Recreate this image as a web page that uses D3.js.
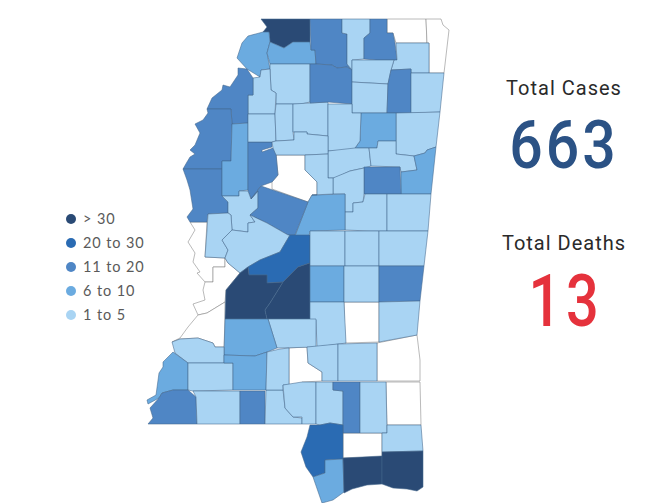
<!DOCTYPE html>
<html>
<head>
<meta charset="utf-8">
<script src="https://cdnjs.cloudflare.com/ajax/libs/d3/7.8.5/d3.min.js"></script>
<style>
  body { margin: 0; background: #fff; }
  svg { display: block; }
</style>
</head>
<body>
<svg id="viz" width="668" height="503"></svg>
<script>
// legend bands, darkest first
const bandLabels = ["> 30", "20 to 30", "11 to 20", "6 to 10", "1 to 5"];
const bandColors = ["#2a4a75", "#2a6bb3", "#4f86c5", "#6babe0", "#a9d4f3"];

const totalCases = 663;
const totalDeaths = 13;

// counties per band
const over30 = ["DeSoto", "Hinds", "Rankin", "Jackson", "Harrison"];
const from20to30 = ["Madison", "Hancock"];
const from11to20 = ["Marshall", "Lafayette", "Tippah", "Lee", "Coahoma", "Bolivar", "Washington", "Leflore",
  "Oktibbeha", "Yazoo", "Lauderdale", "Wilkinson", "Walthall", "Forrest"];
const from6to10 = ["Tunica", "Tate", "Sunflower", "Chickasaw", "Lowndes", "Attala", "Newton", "Copiah",
  "Adams", "Lincoln", "PearlRiver"];
const from1to5 = ["Panola", "Quitman", "Tallahatchie", "Yalobusha", "Calhoun", "Benton", "Prentiss", "Union",
  "Pontotoc", "Itawamba", "Monroe", "Webster", "Choctaw", "Clay", "Montgomery", "Winston", "Noxubee", "Grenada",
  "Carroll", "Sharkey", "Warren", "Humphreys", "Leake", "Neshoba", "Kemper", "Scott", "Jasper", "Smith", "Clarke",
  "Simpson", "Jefferson", "Franklin", "Amite", "Pike", "Lawrence", "JeffersonDavis", "Covington", "Jones", "Perry",
  "Marion", "Lamar", "Stone", "George"];
// the remaining counties have no reported cases and stay white

// county outlines
const countyOutlines = {
  Alcorn: [[387,19],[426,19],[427,43],[396,43],[393,33],[387,33]],
  Tishomingo: [[426,19],[441,19],[443,25],[449,30],[444,73],[429,73],[429,43],[427,43]],
  Holmes: [[276,155],[305,155],[305,170],[317,182],[317,195],[312,195],[308,202],[272,189],[272,182],[278,175]],
  Claiborne: [[190,222],[207,222],[205,257],[225,258],[225,267],[213,267],[213,282],[205,282],[197,273],[200,272],[193,262],[195,253],[188,242],[195,230]],
  Issaquena: [[205,282],[213,282],[213,267],[225,267],[225,258],[228,263],[240,273],[226,290],[225,302],[207,313],[198,315],[193,304],[205,300],[203,290]],
  Tensas: [[198,315],[207,313],[225,302],[225,319],[224,347],[215,347],[213,343],[198,338],[180,339],[172,342],[180,338],[188,327]],
  Kemper2: [[344,302],[379,302],[379,342],[345,343]],
  Covington2: [[289,348],[307,347],[308,363],[322,372],[322,381],[302,382],[301,385],[289,385]],
  Wayne: [[377,343],[417,335],[420,360],[420,381],[377,381]],
  Greene: [[386,382],[420,382],[421,425],[387,425]],
  Stone2: [[343,433],[382,433],[382,457],[343,458]],
  DeSoto: [[261,19],[310,19],[310,42],[293,42],[284,48],[270,42],[269,32],[263,32],[267,27]],
  Tunica: [[263,32],[248,36],[242,43],[237,58],[247,69],[260,77],[261,70],[270,69],[267,53],[270,42],[269,32]],
  Tate: [[270,42],[284,48],[293,42],[310,42],[311,50],[315,50],[316,64],[270,64],[267,53]],
  Panola: [[270,64],[310,64],[310,102],[301,104],[276,104],[276,93],[271,90],[270,69]],
  Quitman: [[261,70],[270,69],[271,90],[276,93],[275,114],[248,114],[248,95],[253,95],[253,78],[260,77]],
  Coahoma: [[238,68],[247,69],[253,78],[253,95],[248,95],[248,123],[232,124],[231,109],[207,109],[212,98],[222,90],[223,85],[230,87],[238,75]],
  Bolivar: [[207,109],[231,109],[232,124],[231,161],[222,161],[222,169],[183,169],[187,162],[190,157],[195,154],[190,150],[195,145],[200,133],[195,124],[203,120],[208,113]],
  Washington: [[183,169],[222,169],[222,196],[228,202],[228,213],[208,214],[207,222],[190,222],[187,217],[193,209],[190,190],[187,180]],
  Sunflower: [[232,124],[248,123],[248,190],[239,191],[239,196],[222,196],[222,161],[231,161]],
  Leflore: [[248,142],[272,142],[272,147],[262,150],[262,152],[273,148],[276,153],[278,175],[272,182],[261,186],[251,199],[248,191]],
  Tallahatchie: [[248,114],[275,114],[276,141],[272,142],[248,142]],
  Yalobusha: [[276,104],[293,104],[293,132],[294,140],[276,141],[275,114]],
  Calhoun: [[293,104],[310,103],[328,102],[328,136],[307,134],[307,132],[293,132]],
  Marshall: [[310,19],[342,19],[342,33],[347,34],[347,64],[352,70],[347,67],[337,68],[332,65],[316,64],[315,50],[311,50]],
  Lafayette: [[310,64],[316,64],[332,65],[337,68],[347,67],[352,70],[352,104],[328,102],[310,103]],
  Benton: [[342,19],[370,19],[370,33],[364,38],[364,59],[352,60],[352,70],[347,64],[347,34],[342,33]],
  Tippah: [[370,19],[387,19],[387,33],[393,33],[395,43],[397,60],[376,60],[364,59],[364,38],[370,33]],
  Prentiss: [[396,43],[429,43],[429,73],[411,73],[411,69],[391,70],[394,60],[397,60]],
  Union: [[352,60],[376,60],[394,60],[391,70],[388,84],[352,82]],
  Pontotoc: [[352,82],[388,84],[387,113],[352,113]],
  Lee: [[391,70],[411,69],[411,113],[387,113],[388,84]],
  Itawamba: [[411,73],[444,73],[440,112],[411,113]],
  Monroe: [[396,113],[440,112],[436,147],[427,150],[425,153],[414,156],[396,154]],
  Chickasaw: [[361,113],[396,113],[396,141],[378,141],[377,148],[355,148],[360,141]],
  Webster: [[328,104],[352,104],[352,113],[361,113],[360,141],[355,148],[354,150],[328,151]],
  Choctaw: [[328,151],[355,148],[369,148],[371,166],[364,168],[350,171],[335,178],[328,178]],
  Clay: [[369,148],[377,148],[378,141],[396,141],[396,154],[414,156],[417,170],[401,172],[400,167],[371,166]],
  Lowndes: [[414,156],[425,153],[427,150],[436,147],[431,194],[401,194],[401,172],[417,170]],
  Oktibbeha: [[364,167],[400,167],[401,194],[364,194]],
  Montgomery: [[333,178],[350,171],[364,168],[364,194],[363,202],[353,203],[353,212],[345,212],[345,194],[333,194]],
  Winston: [[365,194],[387,194],[387,231],[370,231],[345,230],[345,212],[353,212],[353,203],[363,202]],
  Noxubee: [[387,194],[431,194],[428,231],[387,231]],
  Attala: [[312,195],[345,194],[345,230],[310,231],[309,236],[295,236],[308,202]],
  Grenada: [[276,141],[294,140],[294,132],[307,132],[307,134],[328,136],[328,154],[305,155],[276,155],[273,148],[272,142]],
  Carroll: [[305,155],[328,154],[328,178],[333,178],[333,194],[312,195],[317,195],[317,182],[305,170]],
  Humphreys: [[239,191],[248,191],[251,199],[258,191],[258,208],[250,215],[255,222],[248,223],[248,232],[232,230],[231,215],[228,213],[228,202],[222,196],[239,196]],
  Yazoo: [[261,186],[308,202],[295,235],[288,235],[267,223],[250,215],[258,208],[258,191],[251,199]],
  Sharkey: [[208,214],[228,213],[231,215],[232,230],[222,240],[228,250],[225,258],[205,257],[207,230]],
  Warren: [[248,232],[248,223],[255,222],[250,215],[267,223],[288,235],[290,235],[280,252],[260,260],[248,267],[240,273],[228,263],[225,258],[228,250],[222,240],[232,230]],
  Madison: [[290,235],[310,235],[310,263],[298,267],[283,282],[267,283],[267,275],[249,275],[248,267],[260,260],[280,252]],
  Hinds: [[248,267],[249,275],[267,275],[267,283],[283,282],[280,287],[270,303],[265,310],[267,319],[225,319],[226,290],[240,273]],
  Rankin: [[283,282],[298,267],[310,263],[310,319],[267,319],[265,310],[270,303],[280,287]],
  Leake: [[310,231],[345,231],[345,266],[310,266]],
  Neshoba: [[345,231],[379,231],[379,266],[345,266]],
  Kemper: [[379,231],[428,231],[424,266],[379,266]],
  Newton: [[310,266],[344,266],[344,302],[310,302]],
  Scott: [[344,266],[379,266],[379,302],[344,302]],
  Lauderdale: [[379,266],[424,266],[420,301],[379,302]],
  Smith: [[310,302],[344,302],[346,343],[317,347],[316,320],[310,320]],
  Clarke: [[379,302],[420,301],[417,335],[379,342]],
  Simpson: [[268,319],[316,319],[316,347],[277,348]],
  Copiah: [[225,319],[268,319],[277,348],[267,352],[255,356],[224,355]],
  Jefferson: [[172,342],[180,339],[198,338],[213,343],[215,347],[224,347],[224,363],[188,363],[175,353]],
  Adams: [[173,352],[188,363],[188,390],[173,390],[162,393],[159,398],[148,404],[147,400],[156,395],[159,373],[163,367],[163,362],[168,357]],
  Franklin: [[188,363],[233,363],[233,390],[193,391],[188,390]],
  Lincoln: [[224,355],[255,356],[267,352],[266,390],[233,390],[233,363],[224,363]],
  Wilkinson: [[162,393],[173,390],[188,390],[196,397],[197,424],[148,424],[153,418],[150,408],[159,398]],
  Amite: [[193,391],[240,391],[240,424],[197,424],[196,397]],
  Walthall: [[240,391],[265,391],[265,424],[240,424]],
  Pike: [[266,390],[283,390],[285,408],[293,417],[302,418],[302,424],[265,424]],
  Lawrence: [[267,352],[280,349],[289,348],[289,385],[283,385],[283,390],[266,390]],
  JeffersonDavis: [[307,347],[338,344],[338,381],[322,381],[322,372],[308,363]],
  Jones: [[338,344],[377,343],[377,381],[338,381]],
  Marion: [[283,385],[302,382],[316,382],[316,424],[302,424],[302,417],[293,417],[285,408]],
  Lamar: [[316,382],[333,382],[333,390],[343,391],[343,425],[330,423],[320,425],[316,424]],
  Forrest: [[333,382],[360,382],[360,433],[343,433],[343,391],[333,390]],
  Perry: [[360,382],[386,382],[387,433],[360,433]],
  George: [[387,425],[421,425],[423,451],[382,452],[382,433],[387,433]],
  Hancock: [[310,425],[320,425],[330,423],[343,425],[343,459],[325,460],[325,473],[313,477],[306,467],[301,452],[307,437]],
  PearlRiver: [[325,460],[343,459],[344,492],[333,500],[322,503],[313,477],[325,473]],
  Harrison: [[343,458],[382,456],[382,484],[367,485],[352,489],[344,493]],
  Jackson: [[382,452],[423,451],[423,487],[417,491],[407,489],[393,488],[382,484]]
};

const svg = d3.select("#viz");

const bandColor = d3.scaleOrdinal().domain(bandLabels).range(bandColors).unknown("#fff");
const geoPath = d3.geoPath(d3.geoIdentity());

const countyBands = new Map();
[over30, from20to30, from11to20, from6to10, from1to5].forEach((list, i) => {
  list.forEach(name => countyBands.set(name, bandLabels[i]));
});

const features = Object.entries(countyOutlines).map(([name, ring]) => ({
  type: "Feature",
  properties: { name: name, band: countyBands.get(name) },
  geometry: { type: "Polygon", coordinates: [ring.concat([ring[0]])] }
}));

svg.append("g").selectAll("path")
  .data(features)
  .enter()
  .append("path")
  .attr("d", geoPath)
  .attr("fill", d => bandColor(d.properties.band))
  .attr("stroke", d => d.properties.band ? "#44668c" : "#808080")
  .attr("stroke-width", 0.55)
  .attr("stroke-linejoin", "round");

// legend
const legendY = d3.scalePoint().domain(bandLabels).range([219, 315]);
const legend = svg.append("g").selectAll("g")
  .data(bandLabels)
  .enter()
  .append("g")
  .attr("transform", d => `translate(71,${legendY(d)})`);
legend.append("circle")
  .attr("r", 5)
  .attr("fill", d => bandColor(d));
legend.append("text")
  .attr("x", 12)
  .attr("y", 5)
  .attr("font-family", "Lato")
  .attr("font-size", 14.5)
  .attr("letter-spacing", 0.9)
  .attr("fill", "#5a5a5a")
  .text(d => d);

// totals on the right, big digits squeezed a little to get the narrow look
const totals = [
  { title: "Total Cases", value: totalCases, color: "#2b5285", titleY: 95, valueY: 168, cx: 564, size: 67, spacing: 3.5, squeeze: 0.88 },
  { title: "Total Deaths", value: totalDeaths, color: "#e5323c", titleY: 250, valueY: 326, cx: 566, size: 72, spacing: 6, squeeze: 0.8 }
];
const totalGroups = svg.append("g").selectAll("g")
  .data(totals)
  .enter()
  .append("g");
totalGroups.append("text")
  .attr("x", 564)
  .attr("y", d => d.titleY)
  .attr("text-anchor", "middle")
  .attr("font-family", "Roboto")
  .attr("font-size", 20)
  .attr("letter-spacing", 1)
  .attr("fill", "#2a2a2a")
  .text(d => d.title);
totalGroups.append("text")
  .attr("transform", d => `translate(${d.cx},${d.valueY}) scale(${d.squeeze},1)`)
  .attr("text-anchor", "middle")
  .attr("font-family", "Roboto")
  .attr("font-weight", 500)
  .attr("font-size", d => d.size)
  .attr("letter-spacing", d => d.spacing)
  .attr("fill", d => d.color)
  .text(d => d.value);
</script>
</body>
</html>
